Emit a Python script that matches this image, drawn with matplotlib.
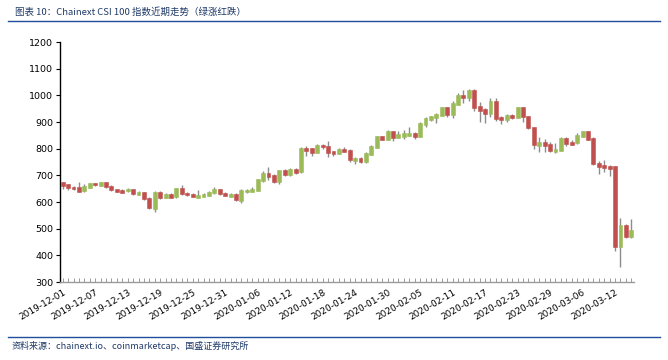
import matplotlib
matplotlib.use("Agg")
import matplotlib.pyplot as plt
import numpy as np
import pandas as pd
from matplotlib.lines import Line2D

plt.rcParams['font.family'] = ['Noto Sans CJK SC', 'DejaVu Sans']

dates = pd.date_range('2019-12-01', '2020-03-15', freq='D')
labels = [d.strftime('%Y-%m-%d') for d in dates]

opens = [674, 666, 655, 655, 640, 654, 671, 661, 674, 660, 647, 645, 640, 647, 627, 637, 615, 574, 637, 616,
         630, 617, 651, 635, 630, 616, 620, 624, 632, 647, 634, 620, 630, 605, 636, 639, 642, 680, 709, 701,
         676, 720, 700, 724, 712, 803, 801, 785, 814, 810, 791, 781, 799, 795, 755, 765, 750, 777, 804, 847,
         834, 866, 841, 845, 849, 859, 845, 889, 907, 916, 924, 956, 927, 965, 1001, 991, 1020, 960, 949, 931,
         977, 919, 907, 925, 916, 956, 922, 881, 811, 824, 816, 787, 792, 840, 825, 820, 845, 865, 840, 746,
         739, 735, 735, 432, 514, 470]
highs = [676, 668, 660, 676, 666, 672, 673, 676, 676, 662, 649, 647, 652, 649, 640, 639, 618, 642, 640, 632,
         632, 653, 664, 638, 632, 645, 633, 640, 656, 650, 636, 632, 632, 647, 647, 657, 688, 715, 730, 705,
         721, 722, 726, 726, 805, 811, 803, 818, 818, 829, 793, 801, 805, 797, 770, 767, 786, 812, 849, 849,
         870, 868, 865, 870, 880, 861, 899, 917, 924, 933, 958, 958, 979, 1007, 1020, 1022, 1022, 976, 951, 989,
         989, 922, 931, 931, 958, 958, 924, 883, 842, 835, 824, 820, 843, 842, 831, 857, 867, 867, 842, 755,
         756, 740, 736, 539, 516, 536]
lows = [648, 645, 645, 636, 638, 652, 660, 659, 652, 641, 637, 633, 638, 627, 625, 607, 573, 561, 612, 614,
        614, 615, 627, 622, 618, 614, 618, 622, 630, 627, 622, 618, 604, 598, 634, 637, 640, 676, 683, 672,
        667, 698, 698, 705, 710, 771, 773, 783, 797, 770, 771, 779, 787, 750, 742, 745, 748, 775, 802, 832,
        832, 830, 839, 835, 847, 835, 843, 883, 905, 897, 922, 920, 916, 963, 972, 980, 942, 901, 895, 917,
        904, 891, 901, 912, 914, 899, 872, 797, 786, 786, 789, 785, 790, 810, 813, 818, 843, 832, 737, 705,
        714, 697, 417, 355, 464, 466]
closes = [661, 651, 647, 639, 661, 670, 662, 674, 655, 644, 639, 635, 649, 629, 637, 610, 576, 637, 616, 630,
          616, 651, 629, 625, 620, 626, 630, 637, 647, 629, 624, 630, 606, 645, 645, 650, 686, 710, 695, 676,
          719, 700, 724, 707, 801, 791, 785, 814, 805, 785, 781, 799, 789, 759, 765, 749, 784, 810, 847, 834,
          865, 841, 855, 857, 859, 845, 896, 915, 922, 931, 956, 926, 971, 1001, 991, 1020, 954, 942, 931, 977,
          912, 909, 925, 916, 956, 917, 876, 812, 824, 811, 792, 797, 840, 819, 815, 851, 865, 834, 741, 732,
          729, 724, 432, 512, 470, 495]

yticks = [300, 400, 500, 600, 700, 800, 900, 1000, 1100, 1200]

UP = '#9BBB59'
DOWN = '#C0504D'
WICK = '#8C8C8C'
NAVY = '#1F3A68'

W, H = 668, 360
fig = plt.figure(figsize=(W / 100, H / 100), dpi=100)
fig.patch.set_facecolor('white')

ax = fig.add_axes([60 / W, (H - 282) / H, (634 - 60) / W, (282 - 42) / H])

x = np.arange(len(opens))
o = np.array(opens, float)
c = np.array(closes, float)
hi = np.array(highs, float)
lo = np.array(lows, float)
cols = [UP if cc >= oo else DOWN for oo, cc in zip(o, c)]

ax.vlines(x, lo, hi, color=WICK, linewidth=1.0, zorder=2)
ax.bar(x, np.abs(c - o), bottom=np.minimum(o, c), width=0.72, color=cols,
       edgecolor=cols, linewidth=0.4, zorder=3)

ax.set_xlim(-0.5, len(opens) - 0.5)
ax.set_ylim(300, 1200)
ax.set_yticks(yticks)
ax.set_yticklabels([str(v) for v in yticks], fontsize=6.8, family=['DejaVu Sans'])
ax.set_xticks(x, minor=True)
major = x[::6]
ax.set_xticks(major)
ax.set_xticklabels([labels[i] for i in major], rotation=30, ha='right',
                   rotation_mode='anchor', fontsize=6.5, family=['DejaVu Sans'])

for s in ['top', 'right']:
    ax.spines[s].set_visible(False)
ax.spines['left'].set_color('black')
ax.spines['left'].set_linewidth(1.0)
ax.spines['bottom'].set_color('#9A9A9A')
ax.spines['bottom'].set_linewidth(1.0)
ax.tick_params(axis='y', direction='out', length=3, width=0.8, color='black', pad=2)
ax.tick_params(axis='x', which='both', direction='in', length=3, width=0.7, color='#9A9A9A', pad=4)

fig.text(15 / W, 1 - 12 / H, '图表 10：Chainext CSI 100 指数近期走势（绿涨红跌）',
         fontsize=6.8, color=NAVY, style='italic', va='center', ha='left',
         family=['Noto Sans CJK SC', 'DejaVu Sans'])
fig.add_artist(Line2D([8 / W, 660 / W], [1 - 21 / H, 1 - 21 / H], color='#1F4E9A', linewidth=1.0))
fig.add_artist(Line2D([8 / W, 660 / W], [1 - 337 / H, 1 - 337 / H], color='#1F4E9A', linewidth=1.0))
fig.text(12 / W, 1 - 346 / H, '资料来源：chainext.io、coinmarketcap、国盛证券研究所',
         fontsize=6.5, color=NAVY, style='italic', va='center', ha='left',
         family=['Noto Sans CJK SC', 'DejaVu Sans'])

fig.savefig('out.png', dpi=100, facecolor='white')
